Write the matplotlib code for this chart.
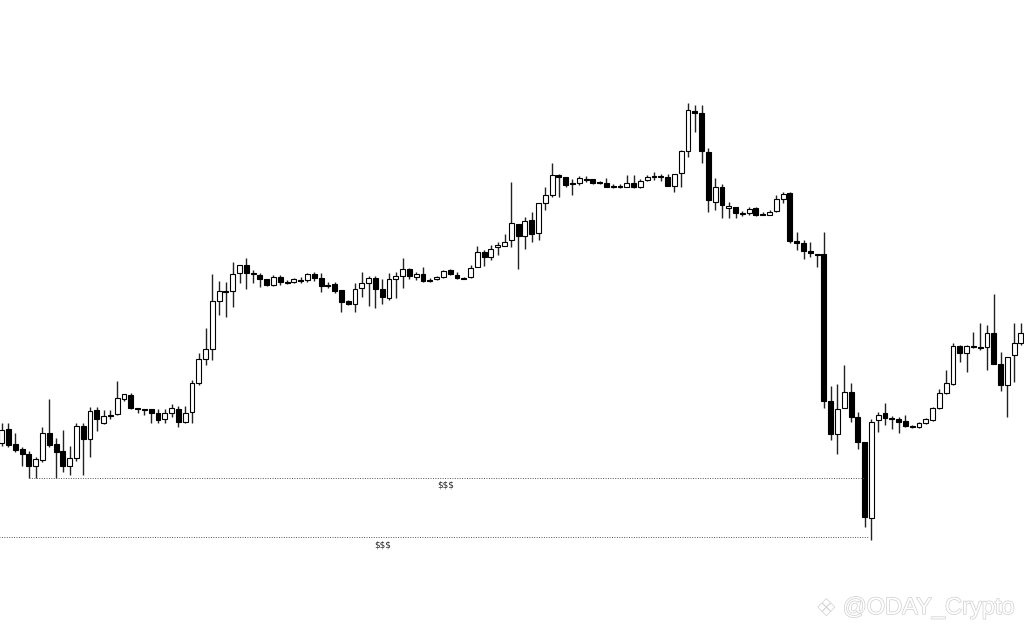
import numpy as np
import matplotlib.pyplot as plt
import matplotlib.patheffects as pe

# OHLC (arbitrary price units)
opens = [157, 171, 156, 151, 146, 134, 140, 167, 156, 149, 134, 142, 174, 161, 190, 177, 185, 186, 201, 205,
         192, 191, 191, 187, 181, 187, 191, 178, 188, 217, 241, 251, 299, 309, 309, 327, 335, 327, 325, 321,
         315, 323, 318, 318, 320, 320, 326, 322, 315, 316, 310, 299, 296, 312, 317, 322, 311, 302, 321, 324,
         331, 323, 326, 320, 321, 323, 330, 325, 322, 323, 333, 348, 343, 353, 354, 360, 376, 364, 380, 367,
         397, 405, 425, 423, 417, 417, 421, 421, 418, 417, 414, 414, 413, 417, 413, 420, 424, 424, 423, 414,
         427, 449, 489, 487, 448, 398, 413, 392, 393, 387, 387, 392, 386, 385, 389, 401, 407, 359, 357, 349,
         346, 346, 199, 166, 192, 208, 183, 158, 82, 180, 187, 182, 181, 179, 174, 173, 177, 180, 192, 207,
         216, 254, 247, 254, 253, 253, 267, 236, 215, 245, 257]
highs = [177, 177, 167, 153, 149, 143, 173, 201, 162, 170, 154, 177, 177, 193, 193, 190, 190, 219, 206, 207,
         192, 191, 191, 191, 191, 196, 194, 194, 220, 247, 272, 326, 319, 318, 338, 335, 342, 330, 327, 321,
         325, 325, 320, 322, 323, 327, 328, 327, 318, 318, 310, 300, 317, 328, 324, 324, 321, 327, 328, 342,
         332, 328, 333, 322, 324, 330, 331, 328, 323, 335, 354, 350, 355, 358, 366, 418, 376, 383, 388, 397,
         413, 437, 426, 423, 421, 424, 424, 421, 419, 422, 416, 416, 425, 425, 421, 425, 428, 426, 426, 426,
         450, 497, 495, 495, 452, 422, 416, 398, 393, 389, 393, 393, 388, 390, 405, 408, 408, 368, 360, 358,
         346, 368, 214, 216, 235, 217, 188, 158, 181, 188, 197, 184, 183, 185, 175, 178, 182, 193, 211, 230,
         257, 255, 255, 268, 277, 275, 306, 248, 243, 277, 277]
lows = [154, 153, 148, 134, 122, 122, 138, 153, 122, 128, 125, 139, 125, 143, 169, 176, 181, 185, 199, 191,
        187, 185, 177, 177, 177, 183, 173, 177, 177, 215, 235, 240, 285, 283, 293, 317, 311, 317, 313, 314,
        314, 315, 316, 317, 317, 318, 319, 308, 312, 307, 288, 295, 288, 303, 294, 292, 296, 300, 302, 312,
        321, 320, 318, 318, 320, 322, 325, 321, 321, 322, 333, 334, 340, 345, 354, 353, 331, 351, 358, 360,
        390, 403, 403, 413, 405, 415, 418, 416, 416, 413, 412, 412, 413, 412, 412, 419, 420, 419, 414, 408,
        413, 443, 468, 437, 388, 390, 382, 382, 382, 384, 385, 384, 385, 385, 388, 397, 357, 350, 341, 343,
        333, 192, 160, 146, 192, 178, 151, 73, 60, 168, 175, 171, 167, 173, 172, 172, 176, 179, 191, 206,
        215, 238, 228, 252, 250, 230, 236, 209, 183, 218, 255]
closes = [170, 155, 150, 146, 134, 141, 167, 155, 148, 134, 142, 174, 161, 189, 181, 184, 184, 202, 206, 192,
          191, 190, 187, 180, 187, 192, 178, 187, 217, 241, 251, 299, 309, 308, 326, 335, 327, 326, 321, 315,
          323, 318, 317, 321, 319, 326, 322, 314, 314, 309, 298, 296, 311, 317, 322, 311, 303, 321, 324, 331,
          324, 326, 319, 319, 323, 329, 326, 322, 321, 332, 348, 343, 351, 355, 358, 377, 364, 379, 366, 397,
          405, 425, 423, 415, 416, 422, 420, 417, 417, 413, 413, 413, 417, 413, 419, 423, 423, 423, 414, 426,
          449, 490, 487, 449, 400, 413, 395, 394, 387, 386, 391, 385, 385, 388, 401, 406, 359, 357, 349, 347,
          345, 199, 166, 191, 208, 183, 158, 83, 178, 185, 182, 181, 178, 174, 173, 177, 181, 192, 207, 217,
          254, 247, 254, 253, 252, 267, 236, 215, 243, 257, 267]

# liquidity levels ($$$)
level_hi = 122
level_lo = 63

o = np.array(opens, float)
h = np.array(highs, float)
l = np.array(lows, float)
c = np.array(closes, float)
x = np.arange(len(o))

fig = plt.figure(figsize=(10.24, 6.3), dpi=100)
ax = fig.add_axes([0, 0, 1, 1])

up = c >= o
ax.vlines(x, l, h, color='#222222', linewidth=1.0, zorder=1)
bottom = np.minimum(o, c)
height = np.maximum(np.abs(c - o), 0.8)
ax.bar(x[up], height[up], bottom=bottom[up], width=0.72, color='white',
       edgecolor='black', linewidth=0.8, zorder=2)
ax.bar(x[~up], height[~up], bottom=bottom[~up], width=0.72, color='black',
       edgecolor='black', linewidth=0.8, zorder=2)

ax.hlines(level_hi, 4, 127, color='#555555', linestyle=(0, (1, 1.5)), linewidth=0.7)
ax.hlines(level_lo, -1, 127.5, color='#555555', linestyle=(0, (1, 1.5)), linewidth=0.7)
ax.text(65.4, level_hi - 7, '$$$', fontsize=6.3, ha='center', va='center', color='#222222')
ax.text(56.1, level_lo - 8, '$$$', fontsize=6.3, ha='center', va='center', color='#222222')

# watermark
wm = ax.text(0.823, 0.035, '@ODAY_Crypto', transform=ax.transAxes, fontsize=17,
             family='Liberation Sans', color='white', ha='left', va='center')
wm.set_path_effects([pe.withStroke(linewidth=1.0, foreground='#cfcfcf')])
ax.text(0.807, 0.033, '❖', transform=ax.transAxes, fontsize=16, color='white',
        ha='center', va='center',
        path_effects=[pe.withStroke(linewidth=1.0, foreground='#cfcfcf')])

ax.set_xlim(-0.25, 150.45)
ax.set_ylim(-30, 600)
ax.axis('off')

fig.savefig('out.png', dpi=100)
